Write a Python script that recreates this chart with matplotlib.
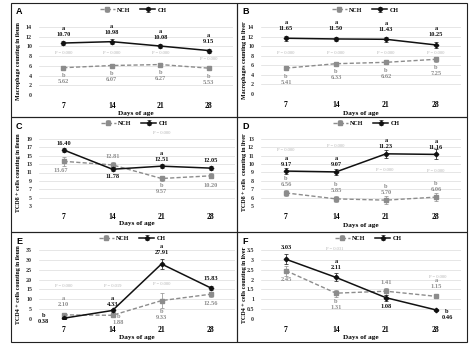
import matplotlib
matplotlib.use("Agg")
import matplotlib.pyplot as plt
from matplotlib.patches import Rectangle
import numpy as np

days = ["7", "14", "21", "28"]

# ---- data ----
A_ch = [10.70, 10.98, 10.08, 9.15]
A_nch = [5.62, 6.07, 6.27, 5.53]
A_ch_err = [0.5, 0.5, 0.5, 0.4]
A_nch_err = [0.3, 0.3, 0.3, 0.3]

B_ch = [11.65, 11.50, 11.43, 10.25]
B_nch = [5.41, 6.33, 6.62, 7.25]
B_ch_err = [0.5, 0.4, 0.5, 0.6]
B_nch_err = [0.4, 0.4, 0.4, 0.5]

C_ch = [16.40, 11.78, 12.51, 12.05]
C_nch = [13.67, 12.81, 9.57, 10.20]
C_ch_err = [0.5, 0.5, 0.5, 0.5]
C_nch_err = [1.0, 0.6, 0.5, 0.6]

D_ch = [9.17, 9.07, 11.23, 11.16]
D_nch = [6.56, 5.85, 5.70, 6.06]
D_ch_err = [0.4, 0.4, 0.5, 0.6]
D_nch_err = [0.4, 0.4, 0.5, 0.5]

E_ch = [0.38, 4.33, 27.91, 15.83]
E_nch = [2.10, 1.88, 9.33, 12.56]
E_ch_err = [0.4, 0.6, 2.5, 1.0]
E_nch_err = [0.6, 0.5, 3.8, 1.2]

F_ch = [3.03, 2.11, 1.08, 0.46]
F_nch = [2.45, 1.31, 1.41, 1.15]
F_ch_err = [0.25, 0.2, 0.15, 0.05]
F_nch_err = [0.25, 0.18, 0.18, 0.05]

ylabels = {
    "A": "Macrophage counting in ileum",
    "B": "Macrophages counting in liver",
    "C": "TCD8 + cells counting in ileum",
    "D": "TCD8 + cells  counting in liver",
    "E": "TCD4 + cells counting in ileum",
    "F": "TCD4 + cells counting in liver",
}

# significance letters ('' = none)
A_ch_let = ["a", "a", "a", "a"]; A_nch_let = ["b", "b", "b", "b"]
B_ch_let = ["a", "a", "a", "a"]; B_nch_let = ["b", "b", "b", "b"]
C_ch_let = ["", "", "a", ""];    C_nch_let = ["", "", "b", ""]
D_ch_let = ["a", "a", "a", "a"]; D_nch_let = ["b", "b", "b", "b"]
E_ch_let = ["b", "a", "a", ""];  E_nch_let = ["a", "b", "b", ""]
F_ch_let = ["", "a", "", "b"];   F_nch_let = ["", "b", "", "a"]

# P-value texts
A_p = ["P = 0.000", "P = 0.000", "P = 0.000", "P = 0.000"]
B_p = ["P = 0.000", "P = 0.000", "P = 0.000", "P = 0.000"]
C_p = ["", "", "P = 0.000", ""]
D_p = ["P = 0.000", "P = 0.000", "P = 0.000", "P = 0.000"]
E_p = ["P = 0.000", "P = 0.019", "P = 0.000", ""]
F_p = ["", "P = 0.031", "", "P = 0.000"]

# ---- layout (pixels, top-left origin) ----
W, H = 474, 351
fig = plt.figure(figsize=(W / 100, H / 100), dpi=100)
SERIF = ["Liberation Serif", "DejaVu Serif"]
SANS = ["Liberation Sans", "DejaVu Sans"]
GRAY = "#8c8c8c"
PGRAY = "#b5b5b5"

def fx(x): return x / W
def fy(y): return 1 - y / H

panels = {
    # box, axes (l, r, top, bottom), ylim, ticks, legend center
    "A": dict(box=(11, 3, 237, 117), ax=(39, 233, 27, 95), ylim=(0, 14), step=2, leg=(133, 10),
              xlab=113),
    "B": dict(box=(237, 3, 467, 117), ax=(261, 461, 27, 94), ylim=(0, 14), step=2, leg=(365, 10),
              xlab=113),
    "C": dict(box=(11, 117, 237, 232), ax=(39, 235, 139, 206), ylim=(3, 19), step=2, leg=(134, 123),
              xlab=224),
    "D": dict(box=(237, 117, 467, 232), ax=(261, 461, 139, 206), ylim=(5, 13), step=1, leg=(366, 123),
              xlab=225),
    "E": dict(box=(11, 232, 237, 342), ax=(39, 235, 250, 319), ylim=(0, 35), step=5, leg=(132, 238),
              xlab=338),
    "F": dict(box=(237, 232, 467, 342), ax=(261, 461, 250, 319), ylim=(0, 3.5), step=0.5, leg=(368, 238),
              xlab=337),
}

data = {
    "A": (A_ch, A_nch, A_ch_err, A_nch_err, A_ch_let, A_nch_let, A_p),
    "B": (B_ch, B_nch, B_ch_err, B_nch_err, B_ch_let, B_nch_let, B_p),
    "C": (C_ch, C_nch, C_ch_err, C_nch_err, C_ch_let, C_nch_let, C_p),
    "D": (D_ch, D_nch, D_ch_err, D_nch_err, D_ch_let, D_nch_let, D_p),
    "E": (E_ch, E_nch, E_ch_err, E_nch_err, E_ch_let, E_nch_let, E_p),
    "F": (F_ch, F_nch, F_ch_err, F_nch_err, F_ch_let, F_nch_let, F_p),
}

# label placement: (dx px, dy px) relative to point for value label; letter goes further out
place = {
    "A": dict(ch=[(0, 9)] * 4, nch=[(0, -14)] * 4),
    "B": dict(ch=[(0, 10)] * 4, nch=[(0, -14)] * 4),
    "C": dict(ch=[(0, 6), (0, -7), (0, 7), (0, 8)], nch=[(-3, -9), (0, 8), (0, -13), (0, -10)]),
    "D": dict(ch=[(0, 7)] * 4, nch=[(0, 8)] * 4),
    "E": dict(ch=[(-20, -3), (0, 6), (0, 11), (0, 9)], nch=[(0, 10), (6, -7), (0, -17), (0, -9)]),
    "F": dict(ch=[(0, 12), (0, 10), (0, -9), (11, -8)], nch=[(0, -9), (0, -14), (0, 9), (0, 10)]),
}
p_y = {
    "A": [8.6, 8.6, 8.6, 7.4],
    "B": [8.6, 8.6, 8.6, 8.6],
    "C": [0, 0, 20.4, 0],
    "D": [11.7, 12.2, 9.3, 9.2],
    "E": [16.7, 16.7, 17.8, 0],
    "F": [0, 3.57, 0, 2.13],
}
p_dx = {"A": [0, 0, 0, 0], "B": [0, 0, 0, 0], "C": [0, 0, 0, 0],
        "D": [0, 0, -1, 0], "E": [0, 0, 0, 0], "F": [0, -1, 0, 2]}

x = np.arange(4)
for key, cfg in panels.items():
    bx0, by0, bx1, by1 = cfg["box"]
    fig.patches.append(Rectangle((fx(bx0), fy(by1)), fx(bx1 - bx0), (by1 - by0) / H,
                                 transform=fig.transFigure, fill=False, edgecolor="#222222",
                                 linewidth=0.8, zorder=0))
    l, r, t, b = cfg["ax"]
    ax = fig.add_axes([fx(l), fy(b), fx(r - l), (b - t) / H])
    ch, nch, che, nche, chl, nchl, pv = data[key]
    lo, hi = cfg["ylim"]
    ax.set_ylim(lo, hi)
    ax.set_xlim(-0.5, 3.5)
    ticks = np.arange(lo, hi + 1e-9, cfg["step"])
    ax.set_yticks(ticks)
    ax.set_yticklabels([("%g" % v) for v in ticks], fontfamily=SERIF, fontweight="bold",
                       fontsize=4.3, color="#333333")
    ax.set_xticks(x)
    ax.set_xticklabels(days, fontfamily=SERIF, fontweight="bold", fontsize=5.5)
    ax.tick_params(axis="both", length=0)
    ax.tick_params(axis="x", pad=5)
    ax.tick_params(axis="y", pad=5)
    for s in ax.spines.values():
        s.set_visible(False)
    ax.grid(axis="y", color="#dcdcdc", linewidth=0.5)
    ax.set_axisbelow(True)
    ax.patch.set_alpha(0)

    ln1 = ax.errorbar(x, nch, yerr=nche, color=GRAY, linestyle=(0, (3, 1.6)), linewidth=1.0,
                      marker="s", markersize=2.3, capsize=1.2, elinewidth=0.5, capthick=0.5,
                      label="NCH", zorder=3)
    ln2 = ax.errorbar(x, ch, yerr=che, color="#111111", linestyle="-", linewidth=1.1,
                      marker="D", markersize=2.3, capsize=1.2, elinewidth=0.5, capthick=0.5,
                      label="CH", zorder=4)

    # value labels
    for i in range(4):
        for vals, lets, plc, col, sign_ in ((ch, chl, place[key]["ch"], "#111111", 1),
                                            (nch, nchl, place[key]["nch"], GRAY, 1)):
            dx, dy = plc[i]
            ax.annotate("%.2f" % vals[i], (x[i], vals[i]), xytext=(dx * 0.72, dy * 0.72),
                        textcoords="offset points", ha="center", va="center",
                        fontsize=4.6, fontfamily=SERIF, fontweight="bold", color=col,
                        annotation_clip=False, zorder=6)
            if lets[i]:
                ldy = dy + (6 if dy > 0 or abs(dx) > 5 else 6)
                if abs(dx) > 5:
                    ldy = dy + 6
                elif dy < 0:
                    ldy = dy + 6
                else:
                    ldy = dy + 6
                ax.annotate(lets[i], (x[i], vals[i]), xytext=(dx * 0.72, ldy * 0.72),
                            textcoords="offset points", ha="center", va="center",
                            fontsize=4.6, fontfamily=SERIF, fontweight="bold", color=col,
                            annotation_clip=False, zorder=6)
        if pv[i]:
            ax.annotate(pv[i], (x[i], p_y[key][i]), xytext=(p_dx[key][i] * 0.72, 0),
                        textcoords="offset points", ha="center", va="center",
                        fontsize=3.3, fontfamily=SERIF, color=PGRAY, annotation_clip=False)

    ax.set_ylabel(ylabels[key], fontfamily=SERIF, fontweight="bold", fontsize=4.3)
    ax.yaxis.set_label_coords(fx(bx0 + 10 - l) / fx(r - l), 0.5)
    fig.text(fx((l + r) / 2), fy(cfg["xlab"]), "Days of age", ha="center", va="center",
             fontfamily=SERIF, fontweight="bold", fontsize=5.2)
    fig.text(fx(bx0 + 5), fy(by0 + 9), key, ha="left", va="center", fontfamily=SANS,
             fontweight="bold", fontsize=6.5)
    cx, cy = cfg["leg"]
    leg = ax.legend(handles=[ln1, ln2], loc="center", bbox_to_anchor=(fx(cx), fy(cy)),
                    bbox_transform=fig.transFigure, ncol=2, frameon=False, handlelength=2.6,
                    columnspacing=1.6, handletextpad=0.3,
                    prop=dict(family=SERIF, weight="bold", size=4.3))
    for h in leg.legend_handles:
        pass

fig.savefig("out.png", dpi=100)
